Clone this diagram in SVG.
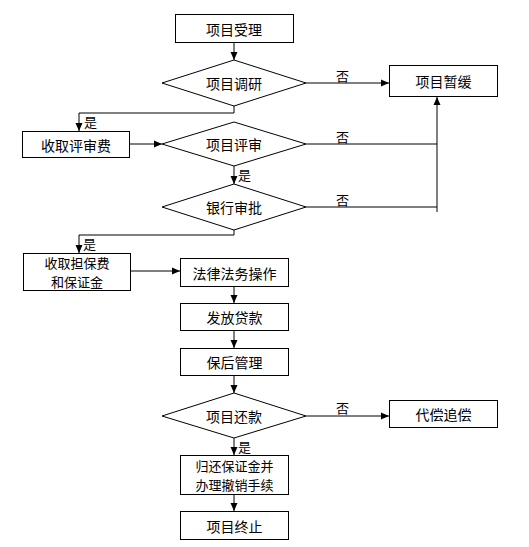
<svg xmlns="http://www.w3.org/2000/svg" width="529" height="547" viewBox="0 0 529 547">
<style>
.b{fill:#fff;stroke:#000;stroke-width:1}
.t{font-family:"Noto Sans CJK SC","Liberation Sans",sans-serif;font-size:14px;fill:#000;text-anchor:middle;dominant-baseline:central}
.t2{font-size:13px}
.l{font-family:"Noto Sans CJK SC","Liberation Sans",sans-serif;font-size:13px;fill:#000;dominant-baseline:central}
.c{fill:none;stroke:#000;stroke-width:1}
</style>
<defs>
<marker id="a" viewBox="0 0 8 8" refX="8" refY="4" markerWidth="8" markerHeight="8" markerUnits="userSpaceOnUse" orient="auto">
<path d="M0,0.5 L8,4 L0,7.5 Z" fill="#000"/>
</marker>
</defs>
<rect width="529" height="547" fill="#fff"/>
<g id="connectors">
<path class="c" d="M234,42 V60" marker-end="url(#a)"/>
<path class="c" d="M306,83 H389" marker-end="url(#a)"/>
<path class="c" d="M234,106 V113 H79 V131" marker-end="url(#a)"/>
<path class="c" d="M130,144 H162" marker-end="url(#a)"/>
<path class="c" d="M306,144 H437"/>
<path class="c" d="M437,212 V97" marker-end="url(#a)"/>
<path class="c" d="M234,166 V184" marker-end="url(#a)"/>
<path class="c" d="M306,207 H437"/>
<path class="c" d="M234,230 V235 H79 V253" marker-end="url(#a)"/>
<path class="c" d="M130,271 H180" marker-end="url(#a)"/>
<path class="c" d="M234,286 V303" marker-end="url(#a)"/>
<path class="c" d="M234,330 V348" marker-end="url(#a)"/>
<path class="c" d="M234,375 V393" marker-end="url(#a)"/>
<path class="c" d="M306,416 H389" marker-end="url(#a)"/>
<path class="c" d="M234,438 V455" marker-end="url(#a)"/>
<path class="c" d="M234,494 V511" marker-end="url(#a)"/>
<text class="l" x="336" y="75">否</text>
<text class="l" x="84" y="121">是</text>
<text class="l" x="336" y="136">否</text>
<text class="l" x="238" y="174">是</text>
<text class="l" x="336" y="199">否</text>
<text class="l" x="83" y="243">是</text>
<text class="l" x="336" y="407">否</text>
<text class="l" x="238" y="446">是</text>
</g>
<g id="n1"><rect class="b" x="175.5" y="14.5" width="118" height="28"/><text class="t" x="234" y="28.5">项目受理</text></g>
<g id="n2"><polygon class="b" points="162,83 234,60 306,83 234,106"/><text class="t" x="234" y="83">项目调研</text></g>
<g id="n3"><rect class="b" x="389.5" y="65.5" width="108" height="31"/><text class="t" x="443.5" y="81">项目暂缓</text></g>
<g id="n4"><rect class="b" x="22.5" y="131.5" width="107" height="26"/><text class="t" x="76" y="144.5">收取评审费</text></g>
<g id="n5"><polygon class="b" points="162,144 234,122 306,144 234,166"/><text class="t" x="234" y="144">项目评审</text></g>
<g id="n6"><polygon class="b" points="162,207 234,184 306,207 234,230"/><text class="t" x="234" y="207">银行审批</text></g>
<g id="n7"><rect class="b" x="23.5" y="253.5" width="107" height="37"/><text class="t t2" x="77" y="262.5">收取担保费</text><text class="t t2" x="77" y="281.5">和保证金</text></g>
<g id="n8"><rect class="b" x="180.5" y="258.5" width="108" height="28"/><text class="t" x="234.5" y="272.5">法律法务操作</text></g>
<g id="n9"><rect class="b" x="180.5" y="303.5" width="108" height="27"/><text class="t" x="234.5" y="317">发放贷款</text></g>
<g id="n10"><rect class="b" x="180.5" y="348.5" width="108" height="27"/><text class="t" x="234.5" y="362">保后管理</text></g>
<g id="n11"><polygon class="b" points="162,416 234,393 306,416 234,438"/><text class="t" x="234" y="416">项目还款</text></g>
<g id="n12"><rect class="b" x="389.5" y="400.5" width="108" height="27"/><text class="t" x="443.5" y="414">代偿追偿</text></g>
<g id="n13"><rect class="b" x="180.5" y="455.5" width="108" height="39"/><text class="t t2" x="234.5" y="465.5">归还保证金并</text><text class="t t2" x="234.5" y="484.5">办理撤销手续</text></g>
<g id="n14"><rect class="b" x="180.5" y="511.5" width="108" height="28"/><text class="t" x="234.5" y="525.5">项目终止</text></g>
</svg>
